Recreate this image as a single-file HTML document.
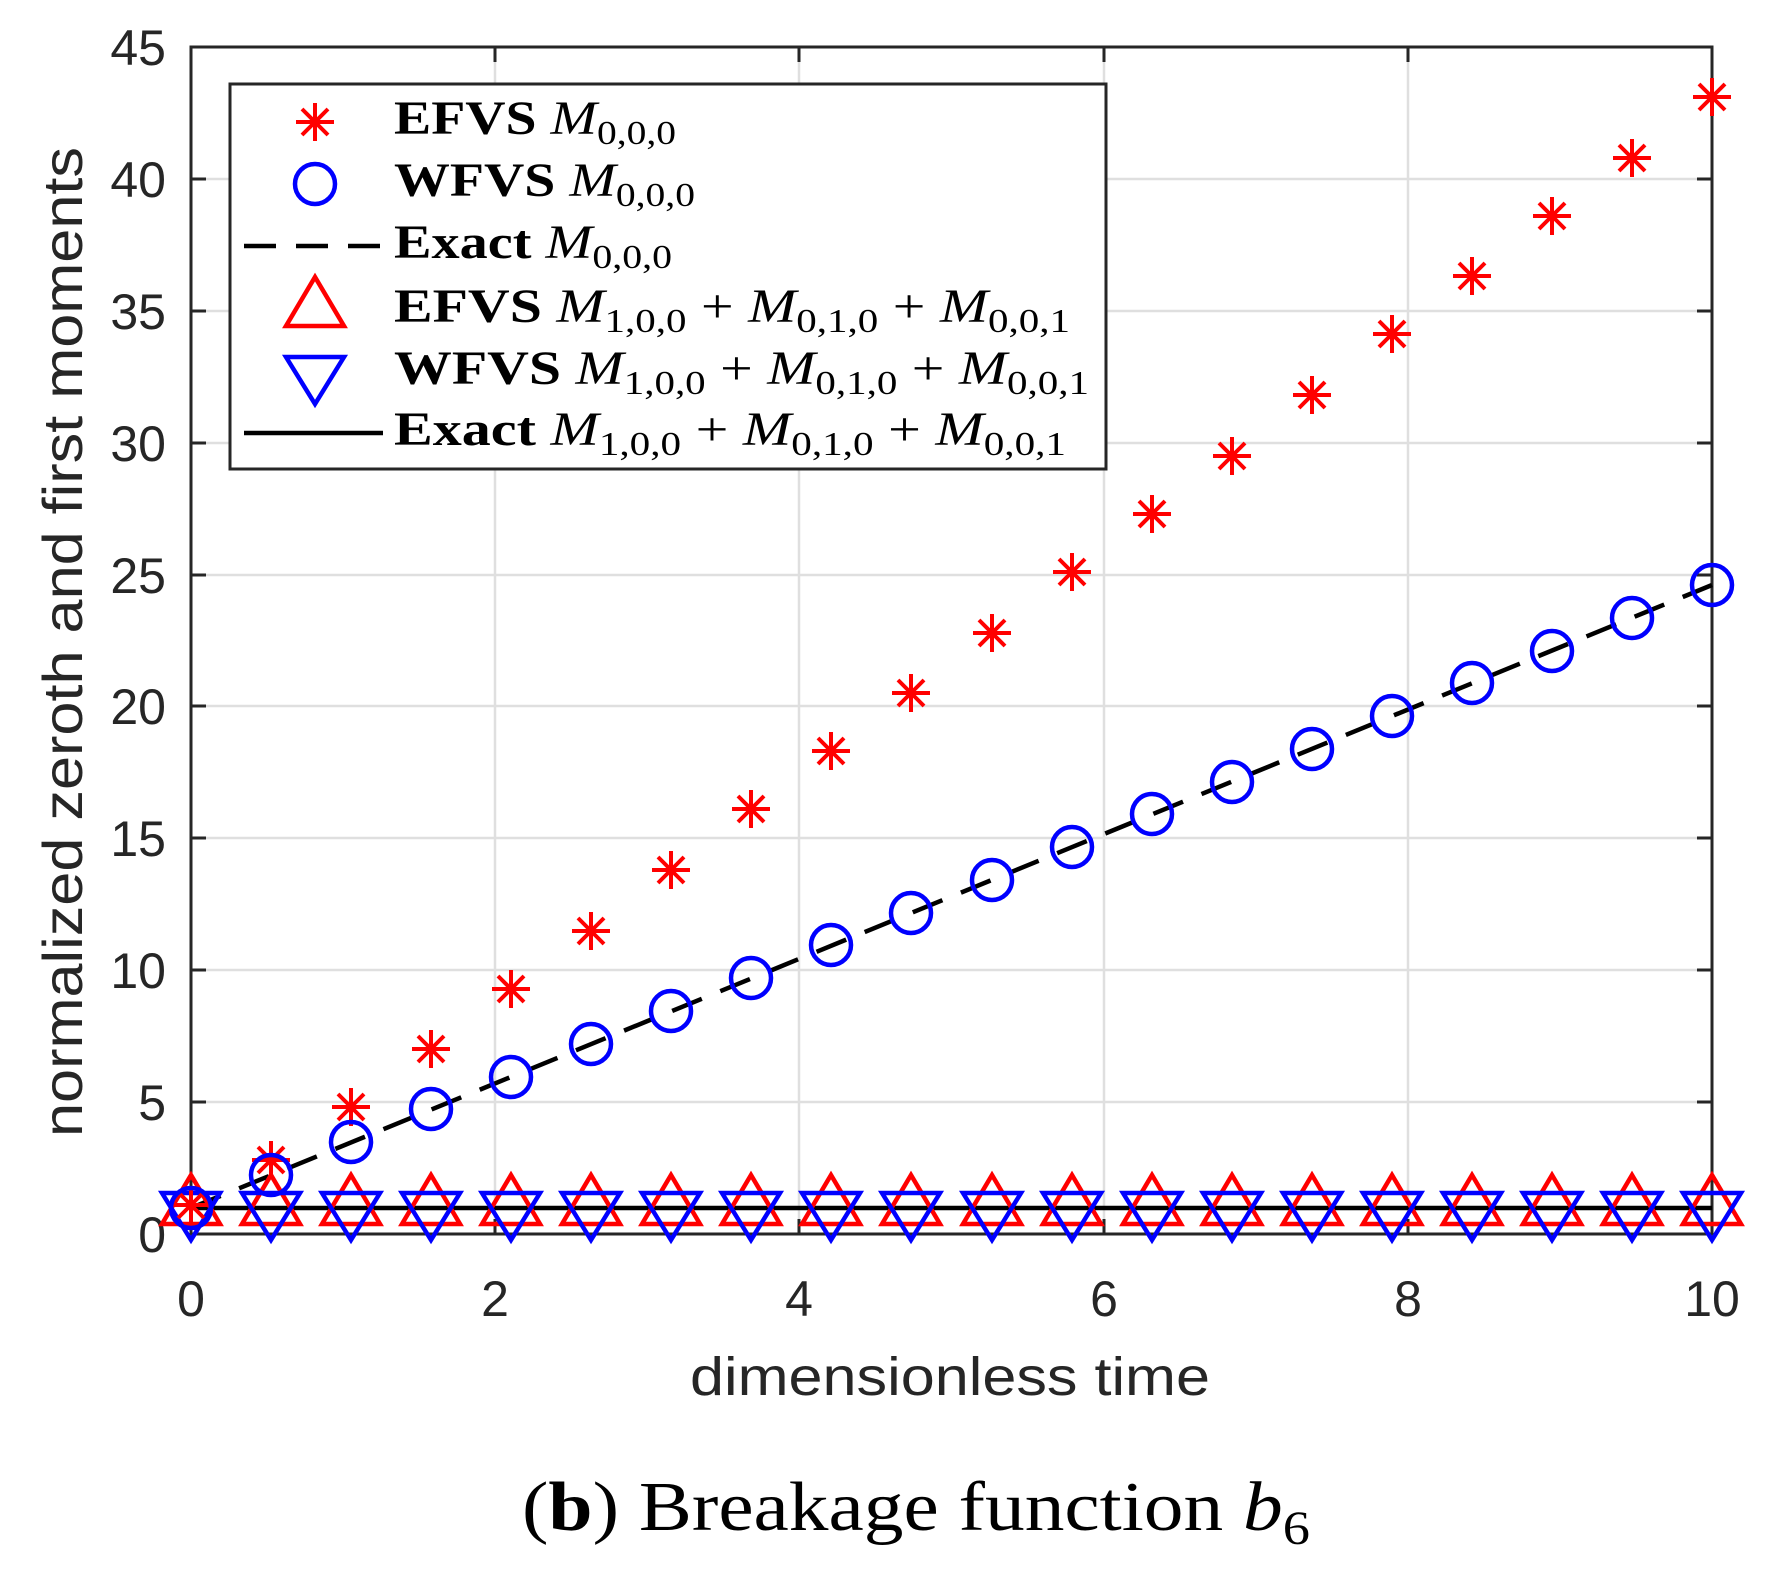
<!DOCTYPE html>
<html><head><meta charset="utf-8"><style>
html,body{margin:0;padding:0;background:#fff;}
svg{display:block;}
</style></head><body>
<svg width="1765" height="1573" viewBox="0 0 1765 1573" xmlns="http://www.w3.org/2000/svg">
<defs>
<g id="star" stroke="#ff0000" stroke-width="4" fill="none"><line x1="-19" y1="0" x2="19" y2="0"/><line x1="0" y1="-19" x2="0" y2="19"/><line x1="-13" y1="-13" x2="13" y2="13"/><line x1="-13" y1="13" x2="13" y2="-13"/></g>
<circle id="circ" r="20" fill="none" stroke="#0000ff" stroke-width="4.5"/>
<polygon id="tup" points="0,-33 29,16 -29,16" fill="none" stroke="#ff0000" stroke-width="4.5"/>
<polygon id="tdn" points="-29,-15 29,-15 0,32" fill="none" stroke="#0000ff" stroke-width="4.5"/>
</defs>
<rect width="1765" height="1573" fill="#fff"/>
<g stroke="#dfdfdf" stroke-width="2.5">
<line x1="495" y1="47" x2="495" y2="1234"/><line x1="799" y1="47" x2="799" y2="1234"/><line x1="1104" y1="47" x2="1104" y2="1234"/><line x1="1408" y1="47" x2="1408" y2="1234"/>
<line x1="191" y1="1102" x2="1712" y2="1102"/><line x1="191" y1="970" x2="1712" y2="970"/><line x1="191" y1="838" x2="1712" y2="838"/><line x1="191" y1="706" x2="1712" y2="706"/><line x1="191" y1="575" x2="1712" y2="575"/><line x1="191" y1="443" x2="1712" y2="443"/><line x1="191" y1="311" x2="1712" y2="311"/><line x1="191" y1="179" x2="1712" y2="179"/>
</g>
<rect x="191" y="47" width="1521" height="1187" fill="none" stroke="#262626" stroke-width="3"/>
<g stroke="#262626" stroke-width="3">
<line x1="495" y1="1234" x2="495" y2="1219"/><line x1="799" y1="1234" x2="799" y2="1219"/><line x1="1104" y1="1234" x2="1104" y2="1219"/><line x1="1408" y1="1234" x2="1408" y2="1219"/>
<line x1="495" y1="47" x2="495" y2="62"/><line x1="799" y1="47" x2="799" y2="62"/><line x1="1104" y1="47" x2="1104" y2="62"/><line x1="1408" y1="47" x2="1408" y2="62"/>
<line x1="191" y1="1102" x2="206" y2="1102"/><line x1="191" y1="970" x2="206" y2="970"/><line x1="191" y1="838" x2="206" y2="838"/><line x1="191" y1="706" x2="206" y2="706"/><line x1="191" y1="575" x2="206" y2="575"/><line x1="191" y1="443" x2="206" y2="443"/><line x1="191" y1="311" x2="206" y2="311"/><line x1="191" y1="179" x2="206" y2="179"/>
<line x1="1712" y1="1102" x2="1697" y2="1102"/><line x1="1712" y1="970" x2="1697" y2="970"/><line x1="1712" y1="838" x2="1697" y2="838"/><line x1="1712" y1="706" x2="1697" y2="706"/><line x1="1712" y1="575" x2="1697" y2="575"/><line x1="1712" y1="443" x2="1697" y2="443"/><line x1="1712" y1="311" x2="1697" y2="311"/><line x1="1712" y1="179" x2="1697" y2="179"/>
</g>
<g font-family="Liberation Sans, sans-serif" font-size="50" fill="#262626">
<g text-anchor="end">
<text x="166" y="1252">0</text><text x="166" y="1120">5</text><text x="166" y="988">10</text><text x="166" y="856">15</text><text x="166" y="724">20</text><text x="166" y="593">25</text><text x="166" y="461">30</text><text x="166" y="329">35</text><text x="166" y="197">40</text><text x="166" y="65">45</text>
</g>
<g text-anchor="middle">
<text x="191" y="1316">0</text><text x="495" y="1316">2</text><text x="799" y="1316">4</text><text x="1104" y="1316">6</text><text x="1408" y="1316">8</text><text x="1712" y="1316">10</text>
</g>
<text x="690" y="1395" textLength="520" lengthAdjust="spacingAndGlyphs" font-size="54">dimensionless time</text>
<text transform="translate(82,642) rotate(-90)" text-anchor="middle" font-size="56" textLength="990" lengthAdjust="spacingAndGlyphs">normalized zeroth and first moments</text>
</g>
<line x1="191" y1="1208" x2="1712" y2="585" stroke="#000" stroke-width="4.5" stroke-dasharray="32,20"/>
<line x1="191" y1="1208" x2="1712" y2="1208" stroke="#000" stroke-width="4.5"/>
<g>
<use href="#tup" x="191" y="1208"/><use href="#tup" x="271" y="1208"/><use href="#tup" x="351" y="1208"/><use href="#tup" x="431" y="1208"/><use href="#tup" x="511" y="1208"/><use href="#tup" x="591" y="1208"/><use href="#tup" x="671" y="1208"/><use href="#tup" x="751" y="1208"/><use href="#tup" x="831" y="1208"/><use href="#tup" x="911" y="1208"/><use href="#tup" x="992" y="1208"/><use href="#tup" x="1072" y="1208"/><use href="#tup" x="1152" y="1208"/><use href="#tup" x="1232" y="1208"/><use href="#tup" x="1312" y="1208"/><use href="#tup" x="1392" y="1208"/><use href="#tup" x="1472" y="1208"/><use href="#tup" x="1552" y="1208"/><use href="#tup" x="1632" y="1208"/><use href="#tup" x="1712" y="1208"/>
<use href="#tdn" x="191" y="1208"/><use href="#tdn" x="271" y="1208"/><use href="#tdn" x="351" y="1208"/><use href="#tdn" x="431" y="1208"/><use href="#tdn" x="511" y="1208"/><use href="#tdn" x="591" y="1208"/><use href="#tdn" x="671" y="1208"/><use href="#tdn" x="751" y="1208"/><use href="#tdn" x="831" y="1208"/><use href="#tdn" x="911" y="1208"/><use href="#tdn" x="992" y="1208"/><use href="#tdn" x="1072" y="1208"/><use href="#tdn" x="1152" y="1208"/><use href="#tdn" x="1232" y="1208"/><use href="#tdn" x="1312" y="1208"/><use href="#tdn" x="1392" y="1208"/><use href="#tdn" x="1472" y="1208"/><use href="#tdn" x="1552" y="1208"/><use href="#tdn" x="1632" y="1208"/><use href="#tdn" x="1712" y="1208"/>
</g>
<g>
<use href="#star" x="191" y="1205"/><use href="#star" x="271" y="1160"/><use href="#star" x="351" y="1107"/><use href="#star" x="431" y="1049"/><use href="#star" x="511" y="989"/><use href="#star" x="591" y="931"/><use href="#star" x="671" y="870"/><use href="#star" x="751" y="809"/><use href="#star" x="831" y="751"/><use href="#star" x="911" y="693"/><use href="#star" x="992" y="633"/><use href="#star" x="1072" y="572"/><use href="#star" x="1152" y="514"/><use href="#star" x="1232" y="456"/><use href="#star" x="1312" y="395"/><use href="#star" x="1392" y="334"/><use href="#star" x="1472" y="276"/><use href="#star" x="1552" y="216"/><use href="#star" x="1632" y="158"/><use href="#star" x="1712" y="97"/>
</g>
<g>
<use href="#circ" x="191" y="1208"/><use href="#circ" x="271" y="1175"/><use href="#circ" x="351" y="1142"/><use href="#circ" x="431" y="1109"/><use href="#circ" x="511" y="1077"/><use href="#circ" x="591" y="1044"/><use href="#circ" x="671" y="1011"/><use href="#circ" x="751" y="978"/><use href="#circ" x="831" y="945"/><use href="#circ" x="911" y="913"/><use href="#circ" x="992" y="880"/><use href="#circ" x="1072" y="847"/><use href="#circ" x="1152" y="814"/><use href="#circ" x="1232" y="782"/><use href="#circ" x="1312" y="749"/><use href="#circ" x="1392" y="716"/><use href="#circ" x="1472" y="683"/><use href="#circ" x="1552" y="651"/><use href="#circ" x="1632" y="618"/><use href="#circ" x="1712" y="585"/>
</g>
<rect x="230" y="84" width="876" height="385" fill="#fff" stroke="#262626" stroke-width="3"/>
<use href="#star" x="315" y="122"/>
<use href="#circ" x="315" y="184"/>
<line x1="244" y1="246" x2="383" y2="246" stroke="#000" stroke-width="4.5" stroke-dasharray="32,20"/>
<use href="#tup" x="315" y="310"/>
<use href="#tdn" x="315" y="372"/>
<line x1="244" y1="433" x2="383" y2="433" stroke="#000" stroke-width="4.5"/>
<g font-family="Liberation Serif, serif" font-size="48" fill="#000">
<text x="394" y="134" textLength="282" lengthAdjust="spacingAndGlyphs"><tspan font-weight="bold">EFVS</tspan> <tspan font-style="italic">M</tspan><tspan font-size="34" dy="10">0,0,0</tspan></text>
<text x="394" y="196" textLength="301" lengthAdjust="spacingAndGlyphs"><tspan font-weight="bold">WFVS</tspan> <tspan font-style="italic">M</tspan><tspan font-size="34" dy="10">0,0,0</tspan></text>
<text x="394" y="258" textLength="278" lengthAdjust="spacingAndGlyphs"><tspan font-weight="bold">Exact</tspan> <tspan font-style="italic">M</tspan><tspan font-size="34" dy="10">0,0,0</tspan></text>
<text x="394" y="322" textLength="676" lengthAdjust="spacingAndGlyphs"><tspan font-weight="bold">EFVS</tspan> <tspan font-style="italic">M</tspan><tspan font-size="34" dy="10">1,0,0</tspan><tspan dy="-10"> + </tspan><tspan font-style="italic">M</tspan><tspan font-size="34" dy="10">0,1,0</tspan><tspan dy="-10"> + </tspan><tspan font-style="italic">M</tspan><tspan font-size="34" dy="10">0,0,1</tspan></text>
<text x="394" y="384" textLength="695" lengthAdjust="spacingAndGlyphs"><tspan font-weight="bold">WFVS</tspan> <tspan font-style="italic">M</tspan><tspan font-size="34" dy="10">1,0,0</tspan><tspan dy="-10"> + </tspan><tspan font-style="italic">M</tspan><tspan font-size="34" dy="10">0,1,0</tspan><tspan dy="-10"> + </tspan><tspan font-style="italic">M</tspan><tspan font-size="34" dy="10">0,0,1</tspan></text>
<text x="394" y="445" textLength="672" lengthAdjust="spacingAndGlyphs"><tspan font-weight="bold">Exact</tspan> <tspan font-style="italic">M</tspan><tspan font-size="34" dy="10">1,0,0</tspan><tspan dy="-10"> + </tspan><tspan font-style="italic">M</tspan><tspan font-size="34" dy="10">0,1,0</tspan><tspan dy="-10"> + </tspan><tspan font-style="italic">M</tspan><tspan font-size="34" dy="10">0,0,1</tspan></text>
</g>
<text x="522" y="1530" font-family="Liberation Serif, serif" font-size="70" fill="#000" textLength="788" lengthAdjust="spacingAndGlyphs">(<tspan font-weight="bold">b</tspan>) Breakage function <tspan font-style="italic">b</tspan><tspan font-size="48" dy="14">6</tspan></text>
</svg>
</body></html>
